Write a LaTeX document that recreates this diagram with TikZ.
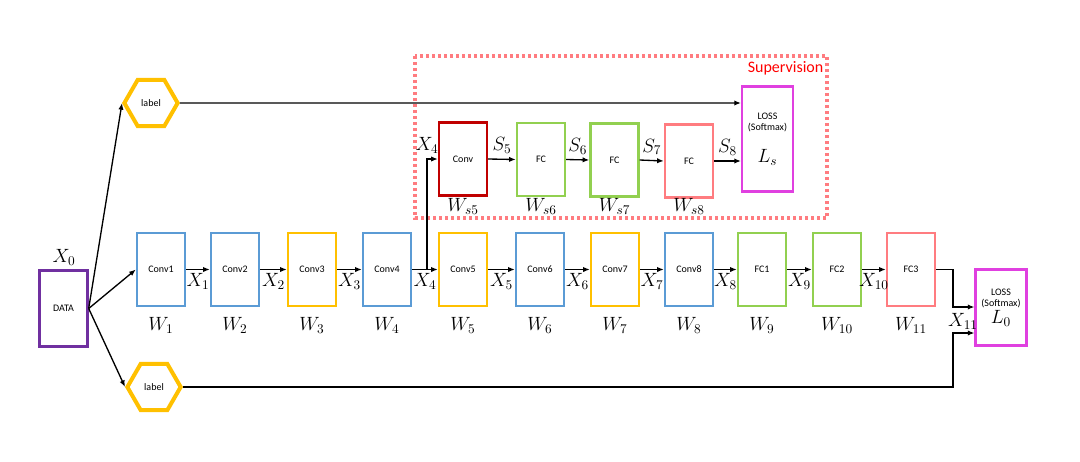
\documentclass[tikz,border=0pt]{standalone}
\usepackage{fontspec}
\setmainfont{Carlito}
\usetikzlibrary{shapes.geometric,arrows.meta}
\definecolor{cblue}{HTML}{5B9BD5}
\definecolor{cyel}{HTML}{FFC000}
\definecolor{cgreen}{HTML}{92D050}
\definecolor{csal}{HTML}{FF7C80}
\definecolor{cred}{HTML}{C00000}
\definecolor{cmag}{HTML}{E040E0}
\definecolor{cpur}{HTML}{7030A0}
\begin{document}
\begin{tikzpicture}[x=0.75pt,y=-0.75pt,
 bx/.style={draw=#1,line width=1.8pt,minimum width=36pt,minimum height=55pt,inner sep=0pt,font=\fontsize{7.5}{8.5}\selectfont},
 hx/.style={regular polygon,regular polygon sides=6,shape border rotate=0,draw=cyel,line width=3pt,minimum width=40pt,inner sep=0pt,font=\fontsize{7.5}{8.5}\selectfont},
 ar/.style={-{Latex[length=5pt,width=4pt]},line width=1pt},
 lb/.style={font=\Large,inner sep=1pt}]
\useasboundingbox (0,0) rectangle (1080,461);
\node[bx=cpur,minimum height=57pt] (data) at (63.5,308.5) {DATA};
\node[lb] at (64,257) {$X_0$};
\node[hx] (l1) at (151,103) {label};
\node[hx] (l2) at (154,387) {label};
\foreach \n/\x/\c/\t/\w in {c1/161/cblue/Conv1/1,c2/235/cblue/Conv2/2,c3/312/cyel/Conv3/3,c4/387/cblue/Conv4/4,c5/463/cyel/Conv5/5,c6/540/cblue/Conv6/6,c7/615/cyel/Conv7/7,c8/689/cblue/Conv8/8,f1/762/cgreen/FC1/9,f2/837/cgreen/FC2/10,f3/911/csal/FC3/11}
 {\node[bx=\c] (\n) at (\x,269.5) {\t};
  \node[lb] at (\x,325) {$W_{\w}$};}
\node[bx=cmag,minimum height=57pt,minimum width=38pt,align=center] (L0) at (1001,307.5) {LOSS\\(Softmax)\\[1pt]{\Large$L_0$}};
\draw[ar] (data.east) -- (l1.west);
\draw[ar] (data.east) -- (c1.west);
\draw[ar] (data.east) -- (l2.west);
\foreach \a/\b/\i in {c1/c2/1,c2/c3/2,c3/c4/3,c4/c5/4,c5/c6/5,c6/c7/6,c7/c8/7,c8/f1/8,f1/f2/9,f2/f3/10}
 {\draw[ar] (\a.east) -- (\b.west);
  \path (\a.east) -- (\b.west) node[midway,lb,below=2pt] {$X_{\i}$};}
% supervision
\draw[csal,line width=2.5pt,dash pattern=on 2.5pt off 2pt] (415,56) rectangle (827,218);
\node[text=red,font=\large,anchor=east] at (828,68) {Supervision};
\node[bx=cred] (s5) at (463,159) {Conv};
\node[bx=cgreen] (s6) at (541,159.5) {FC};
\node[bx=cgreen] (s7) at (614.5,160) {FC};
\node[bx=csal] (s8) at (689,161) {FC};
\node[bx=cmag,minimum height=79pt,minimum width=38pt,align=center] (Ls) at (767.5,139) {LOSS\\(Softmax)\\[12pt]{\Large$L_s$}};
\foreach \x/\i in {463/5,541/6,614.5/7,689/8} \node[lb] at (\x,206) {$W_{s\i}$};
\foreach \a/\b/\i in {s5/s6/5,s6/s7/6,s7/s8/7}
 {\draw[ar] (\a.east) -- (\b.west);
  \path (\a.east) -- (\b.west) node[midway,lb,above=3pt] {$S_{\i}$};}
\coordinate (s8e) at (s8.east);
\draw[ar] (s8.east) -- (s8e -| Ls.west) node[midway,lb,above=3pt] {$S_8$};
\coordinate (br) at (427,269.5);
\draw[ar] (br) |- (s5.west);
\node[lb] at (427,145) {$X_4$};
\draw[ar] (l1.east) -- (l1 -| Ls.west);
\coordinate (k1) at (953,269.5);
\coordinate (k2) at (953,333);
\draw[ar] (f3.east) -- (k1) |- (L0.west |- 0,307);
\node[lb] at (963,321) {$X_{11}$};
\draw[ar] (l2.east) -| (k2) -- (L0.west |- k2);
\end{tikzpicture}
\end{document}
